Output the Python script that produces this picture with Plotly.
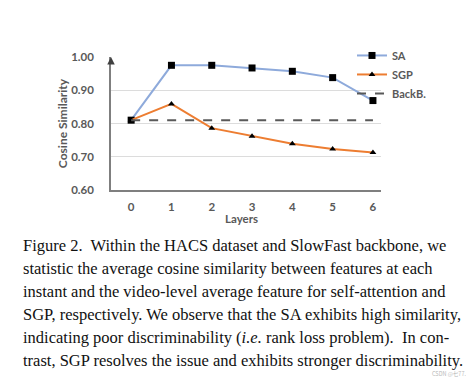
import plotly.graph_objects as go

layers = [0, 1, 2, 3, 4, 5, 6]
sa = [0.810, 0.975, 0.975, 0.967, 0.957, 0.938, 0.869]
sgp = [0.810, 0.859, 0.786, 0.762, 0.739, 0.723, 0.713]
backb = [0.810, 0.810, 0.810, 0.810, 0.810, 0.810, 0.810]
y_ticks = [0.60, 0.70, 0.80, 0.90, 1.00]
caption_lines = [
    "Figure 2.  Within the HACS dataset and SlowFast backbone, we",
    "statistic the average cosine similarity between features at each",
    "instant and the video-level average feature for self-attention and",
    "SGP, respectively. We observe that the SA exhibits high similarity,",
    "indicating poor discriminability (<i>i.e.</i> rank loss problem).  In con-",
    "trast, SGP resolves the issue and exhibits stronger discriminability.",
]

OFF = 8  # default page body margin
W, H = 474 - OFF, 377 - OFF
L, R, T, B = 111 - OFF, 381 - OFF, 57 - OFF, 189.7 - OFF
PW, PH = R - L, B - T


def px(x):  # page pixel -> paper x
    return (x - OFF - L) / PW


def py(y):  # page pixel -> paper y
    return (B - (y - OFF)) / PH


GREY = "#595959"
FONT = "Lato"

fig = go.Figure()
fig.add_trace(go.Scatter(
    x=layers, y=sa, name="SA", mode="lines+markers",
    line=dict(color="#8eaadb", width=2),
    marker=dict(symbol="square", size=7, color="black"),
))
fig.add_trace(go.Scatter(
    x=layers, y=sgp, name="SGP", mode="lines+markers",
    line=dict(color="#ed7d31", width=2),
    marker=dict(symbol="triangle-up", size=6, color="black"),
))
fig.add_trace(go.Scatter(
    x=layers, y=backb, name="BackB.", mode="lines",
    line=dict(color=GREY, width=2, dash="dash"),
))

fig.update_layout(
    width=W, height=H,
    margin=dict(l=L, r=W - R, t=T, b=H - B),
    paper_bgcolor="white", plot_bgcolor="white",
    font=dict(family=FONT, color=GREY),
    showlegend=True,
    legend=dict(
        x=px(352), y=py(41), xanchor="left", yanchor="top",
        font=dict(family=FONT, size=11, color=GREY, weight="bold"),
        bgcolor="rgba(0,0,0,0)", tracegroupgap=0, itemwidth=30,
    ),
    xaxis=dict(
        range=[-0.5, 6.2], tickvals=layers, ticktext=[str(v) for v in layers],
        showgrid=False, zeroline=False,
        showline=True, linecolor="#7f7f7f", linewidth=1.5,
        ticks="", ticklabelstandoff=5,
        tickfont=dict(family=FONT, size=11.5, color=GREY, weight="bold"),
    ),
    yaxis=dict(
        range=[0.6, 1.0], tickvals=y_ticks, ticktext=[f"{v:.2f}" for v in y_ticks],
        showgrid=True, gridcolor="#dcdcdc", gridwidth=1, zeroline=False,
        showline=True, linecolor="#7f7f7f", linewidth=1.5,
        ticks="", ticklabelstandoff=13,
        tickfont=dict(family=FONT, size=11.5, color=GREY, weight="bold"),
    ),
)

# y-axis arrow head
fig.add_annotation(x=-0.5, y=1.0, xref="x", yref="y", ax=0, ay=4,
                   showarrow=True, arrowhead=2, arrowsize=1, arrowwidth=1.5,
                   arrowcolor="#404040", text="")

# axis titles
fig.add_annotation(x=px(241), y=py(218), xref="paper", yref="paper",
                   xanchor="center", yanchor="middle",
                   text="<b>Layers</b>", showarrow=False,
                   font=dict(family=FONT, size=11.5, color=GREY))
fig.add_annotation(x=px(62), y=py(123), xref="paper", yref="paper",
                   xanchor="center", yanchor="middle",
                   text="<b>Cosine Similarity</b>", showarrow=False, textangle=-90,
                   font=dict(family=FONT, size=12, color=GREY))

# caption
cap_y = [245, 268, 291, 313.5, 337, 359.5]
for line, yy in zip(caption_lines, cap_y):
    fig.add_annotation(x=px(21), y=py(yy), xref="paper", yref="paper",
                       text=line, showarrow=False, xanchor="left", yanchor="middle",
                       font=dict(family="Liberation Serif", size=16.5, color="#111111"))

# watermark
fig.add_annotation(x=px(468), y=py(373), xref="paper", yref="paper",
                   text="CSDN @七77.", showarrow=False, xanchor="right", yanchor="middle",
                   font=dict(family="Noto Sans CJK SC", size=5.5, color="#b8b8b8"))

fig.write_html("out.html")
